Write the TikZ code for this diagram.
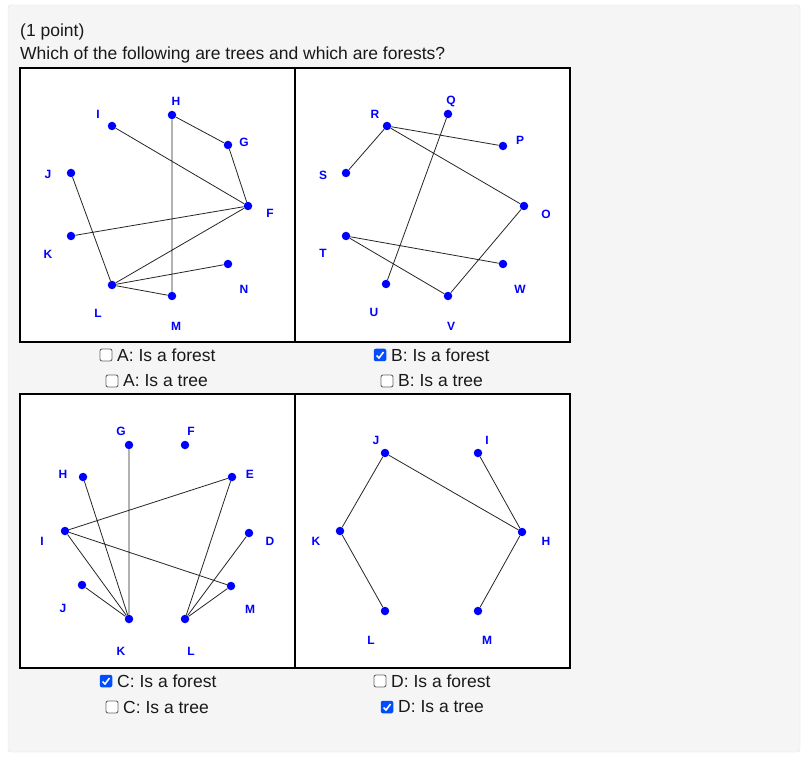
\documentclass[tikz,border=0pt]{standalone}
\usepackage{fontspec}
\setmainfont{Liberation Sans}
\begin{document}
\begin{tikzpicture}[x=1pt,y=-1pt,
  dot/.style={circle,fill=blue,inner sep=0pt,minimum size=8.5pt},
  lab/.style={text=blue,font=\fontsize{12}{13}\selectfont\bfseries,inner sep=0pt},
  edge/.style={draw=black!85,line width=0.8pt},
  txt/.style={font=\fontsize{17.5}{20}\selectfont,anchor=west,inner sep=0pt,text=black!90},
  cbox/.style={draw=black!60,fill=white,rounded corners=2pt,minimum size=12pt,inner sep=0pt,line width=0.9pt},
  cboxon/.style={fill=blue!70!cyan,rounded corners=2pt,minimum size=12.5pt,inner sep=0pt}]
\useasboundingbox (0,0) rectangle (804,762);
\fill[white] (0,0) rectangle (804,762);
\draw[draw=black!12,fill=black!4,rounded corners=3pt] (8,5) rectangle (800,752);
\node[txt] (t1) at (20,32) {(1 point)};
\node[txt] (t2) at (20,55) {Which of the following are trees and which are forests?};
\fill[white] (20,68) rectangle (570,342);
\fill[white] (20,394) rectangle (570,668);
\draw[line width=1.3pt] (20,68) rectangle (570,342);
\draw[line width=1.3pt] (20,394) rectangle (570,668);
\draw[line width=2pt] (295,68) -- (295,342);
\draw[line width=2pt] (295,394) -- (295,668);
% Panel A
\node[dot] (aH) at (172,115) {}; \node[lab] (aHl) at (176,101) {H};
\node[dot] (aI) at (112,126) {}; \node[lab] (aIl) at (98,114) {I};
\node[dot] (aG) at (228,145) {}; \node[lab] (aGl) at (244,142) {G};
\node[dot] (aJ) at (71,173) {}; \node[lab] (aJl) at (48,174) {J};
\node[dot] (aF) at (248,206) {}; \node[lab] (aFl) at (270,213) {F};
\node[dot] (aK) at (71,236) {}; \node[lab] (aKl) at (48,254) {K};
\node[dot] (aN) at (228,264) {}; \node[lab] (aNl) at (244,289) {N};
\node[dot] (aL) at (112,285) {}; \node[lab] (aLl) at (98,313) {L};
\node[dot] (aM) at (172,296) {}; \node[lab] (aMl) at (176,326) {M};
\draw[edge] (aI)--(aF) (aH)--(aG) (aG)--(aF) (aH)--(aM) (aJ)--(aL) (aK)--(aF) (aL)--(aF) (aL)--(aN) (aL)--(aM);
% Panel B
\node[dot] (bQ) at (448,114) {}; \node[lab] (bQl) at (451,101) {Q};
\node[dot] (bR) at (387,126) {}; \node[lab] (bRl) at (375,114) {R};
\node[dot] (bP) at (503,146) {}; \node[lab] (bPl) at (520,140) {P};
\node[dot] (bS) at (346,173) {}; \node[lab] (bSl) at (323,175) {S};
\node[dot] (bO) at (524,206) {}; \node[lab] (bOl) at (546,214) {O};
\node[dot] (bT) at (346,236) {}; \node[lab] (bTl) at (323,253) {T};
\node[dot] (bW) at (503,264) {}; \node[lab] (bWl) at (520,289) {W};
\node[dot] (bU) at (386,284) {}; \node[lab] (bUl) at (374,312) {U};
\node[dot] (bV) at (448,296) {}; \node[lab] (bVl) at (451,326) {V};
\draw[edge] (bS)--(bR) (bR)--(bP) (bR)--(bO) (bQ)--(bU) (bT)--(bW) (bT)--(bV) (bO)--(bV);
% Panel C
\node[dot] (cG) at (129,445) {}; \node[lab] (cGl) at (121,431) {G};
\node[dot] (cF) at (185,445) {}; \node[lab] (cFl) at (191,431) {F};
\node[dot] (cH) at (83,477) {}; \node[lab] (cHl) at (63,474) {H};
\node[dot] (cE) at (232,477) {}; \node[lab] (cEl) at (250,474) {E};
\node[dot] (cI) at (65,531) {}; \node[lab] (cIl) at (42,541) {I};
\node[dot] (cD) at (249,533) {}; \node[lab] (cDl) at (270,541) {D};
\node[dot] (cJ) at (82,585) {}; \node[lab] (cJl) at (63,608) {J};
\node[dot] (cM) at (231,586) {}; \node[lab] (cMl) at (250,609) {M};
\node[dot] (cK) at (129,619) {}; \node[lab] (cKl) at (121,651) {K};
\node[dot] (cL) at (185,619) {}; \node[lab] (cLl) at (191,651) {L};
\draw[edge] (cG)--(cK) (cI)--(cE) (cI)--(cM) (cH)--(cK) (cJ)--(cK) (cI)--(cK) (cE)--(cL) (cD)--(cL) (cM)--(cL);
% Panel D
\node[dot] (dJ) at (385,453) {}; \node[lab] (dJl) at (376,440) {J};
\node[dot] (dI) at (478,453) {}; \node[lab] (dIl) at (487,440) {I};
\node[dot] (dK) at (340,531) {}; \node[lab] (dKl) at (316,541) {K};
\node[dot] (dH) at (522,532) {}; \node[lab] (dHl) at (546,541) {H};
\node[dot] (dL) at (385,611) {}; \node[lab] (dLl) at (371,640) {L};
\node[dot] (dM) at (478,611) {}; \node[lab] (dMl) at (487,640) {M};
\draw[edge] (dJ)--(dK) (dJ)--(dH) (dI)--(dH) (dK)--(dL) (dH)--(dM);
% checkboxes
\newcommand\cbo[4]{\node[cbox] (#1) at (#2,#3) {}; \node[txt] (#1t) at (#2+11,#3) {#4};}
\newcommand\cbx[4]{\node[cboxon] (#1) at (#2,#3) {}; \draw[white,line width=1.6pt] (#2-3.5,#3+0.5)--(#2-1,#3+3)--(#2+3.5,#3-3); \node[txt] (#1t) at (#2+11,#3) {#4};}
\cbo{ca1}{106}{355}{A: Is a forest}
\cbo{ca2}{112}{381}{A: Is a tree}
\cbx{cb1}{380}{355}{B: Is a forest}
\cbo{cb2}{387}{381}{B: Is a tree}
\cbx{cc1}{106}{681}{C: Is a forest}
\cbo{cc2}{112}{707}{C: Is a tree}
\cbo{cd1}{380}{681}{D: Is a forest}
\cbx{cd2}{387}{707}{D: Is a tree}
\end{tikzpicture}
\end{document}
